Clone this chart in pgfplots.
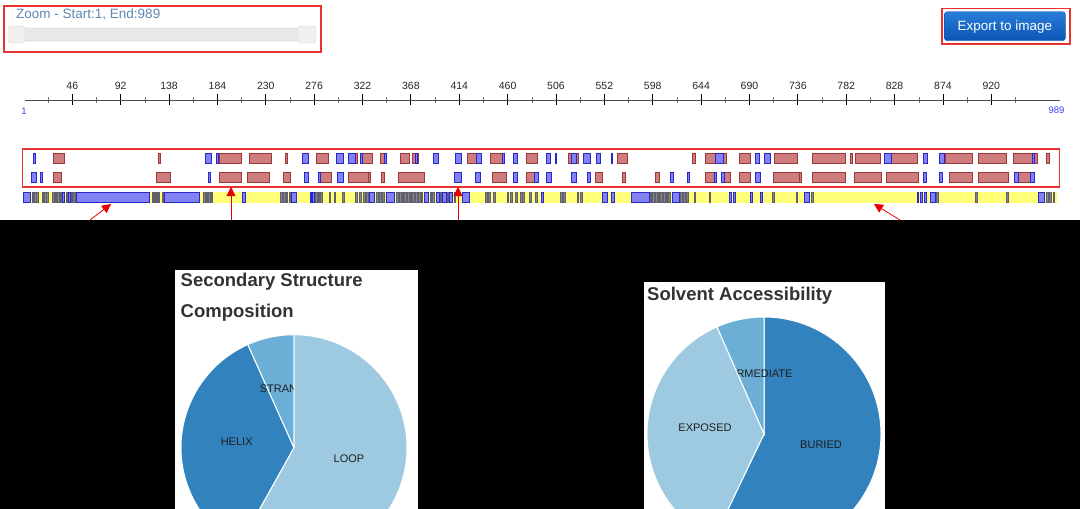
\documentclass[border=0pt]{standalone}
\usepackage{fontspec}
\setmainfont{Liberation Sans}
\usepackage{pgfplots}
\pgfplotsset{compat=1.18}
\usepackage{pgfplotstable}
\usetikzlibrary{arrows.meta}

\definecolor{trkred}{RGB}{205,125,125}
\definecolor{trkredd}{RGB}{160,55,55}
\definecolor{trkblue}{RGB}{130,130,245}
\definecolor{trkblued}{RGB}{40,40,200}
\definecolor{trkyel}{RGB}{255,255,120}
\definecolor{trkgray}{RGB}{135,135,140}
\definecolor{trkgrayd}{RGB}{95,95,110}
\definecolor{boxred}{RGB}{232,50,50}
\definecolor{pieLight}{HTML}{9ECAE1}
\definecolor{pieDark}{HTML}{3182BD}
\definecolor{pieMid}{HTML}{6BAED6}
\definecolor{zoomtxt}{RGB}{95,135,180}
\definecolor{titletxt}{HTML}{333333}
\definecolor{btnA}{RGB}{40,125,215}
\definecolor{btnB}{RGB}{10,85,180}

% pie data (percent)
\def\ssLoop{58.1}\def\ssHelix{35.2}\def\ssStrand{6.7}
\def\saBuried{57.1}\def\saExposed{36.3}\def\saInter{6.6}
\pgfmathsetmacro\ssA{90-3.6*\ssLoop}
\pgfmathsetmacro\ssB{\ssA-3.6*\ssHelix}
\pgfmathsetmacro\saA{90-3.6*\saBuried}
\pgfmathsetmacro\saB{\saA-3.6*\saExposed}

\pgfdeclareplotmark{barrect}{%
  \pgfpathrectangle{\pgfpoint{0pt}{-5pt}}{\pgfpoint{\barw pt}{10pt}}%
  \pgfusepathqfillstroke}
\pgfdeclareplotmark{stripe}{%
  \pgfpathrectangle{\pgfpoint{-0.7pt}{-5pt}}{\pgfpoint{1.4pt}{10pt}}%
  \pgfusepathqfillstroke}

\pgfplotsset{
  trackbars/.style 2 args={scatter, only marks, mark=barrect, point meta=x,
    visualization depends on={\thisrow{x2}-\thisrow{x1} \as \barw},
    scatter/@pre marker code/.code={}, scatter/@post marker code/.code={},
    mark options={fill=#1, draw=#2, line width=0.7pt}},
  redarrow/.style={red!90!black, line width=0.8pt, -{Triangle[length=9pt,width=9pt]}, mark=none},
}

% ---- track data (screen x positions, start/end) ----
\pgfplotstableread{
x1 x2
53.3 64
158.3 160
219.3 241.3
249 271.3
285.7 287.3
316.7 328.7
355 357
362.7 372
380.7 386
400.3 409.7
412.3 418
467.7 477.7
490 504.3
526.7 537
568.7 578
617.7 627.7
692.3 695.7
705 726.7
739 750
774.7 797.3
812.3 845.7
850.7 852.3
855.3 880.3
884.3 917
945.3 972.7
978.7 1006
1013.7 1037
1046 1049.3
}\rowOneRed
\pgfplotstableread{
x1 x2
33.3 35
205.7 211
216.7 218.7
302 308.7
336.3 343
348.7 355
360.7 362.7
384 386
415.5 417.5
433 438
455 461.7
476 481
502.7 504.3
513.3 517.7
546 550
555 556.7
571 576
583.7 590
596 600
611 612.7
715.7 723.3
755 759.3
764 770.7
884.3 891.3
923.7 927
939.7 944.7
1032 1034.7
}\rowOneBlue
\pgfplotstableread{
x1 x2
53.3 61.7
156 170
219.3 241.3
247 269.7
283 290.3
320.7 331.3
348 368
368 370.7
381.3 384
398.7 424.7
492.7 506
526.7 536
595.3 602.7
622 625.3
655.7 659
705.7 716.7
724 730
739.7 750.7
773 799
799 801.3
812.3 845.7
854.7 881.3
886 918.7
949.7 972.7
978 1008.7
1018.7 1030.3
}\rowTwoRed
\pgfplotstableread{
x1 x2
31.7 36
40.7 42.7
208.3 210
304.7 308
318 320.7
337.3 343
454.3 461
475.3 480.3
513.3 517.7
534.3 538.7
546 551
571 576
587.7 590
670 673.3
687.3 689
714 716.7
721.3 724
755 760
923.7 926
939.3 942.7
1014.7 1018.7
1030.3 1034.7
}\rowTwoBlue
\pgfplotstableread{
x1 x2
23 1056
}\rowThreeYellow
\pgfplotstableread{
x1 x2
23.3 30
62.5 64.2
68.5 70.2
76.7 149.3
164 199.3
242.7 245.7
291.3 296.3
310 311.7
312.5 314.2
369.7 374.7
386.3 394.7
424.7 428
436 439.3
442.7 446
449.3 452.7
462.7 469.3
541 543.3
602.7 607.7
611 614.3
631 649
672.3 679
729 731
733 735.7
750.7 752.3
760.7 762.3
804 809
917 918.6
920.3 922
924.5 926.2
930.3 935.7
1038.7 1044.7
}\rowThreeBlue

\begin{document}
\begin{tikzpicture}
\begin{axis}[name=main, at={(0,0)}, anchor=south west,
  width=1080pt, height=509pt, scale only axis,
  xmin=0, xmax=1080, ymin=0, ymax=509, y dir=reverse,
  hide axis, enlargelimits=false, clip=true, clip marker paths=true]
% backgrounds
\fill[white] (axis cs:0,0) rectangle (axis cs:1080,220);
\fill[black] (axis cs:0,220) rectangle (axis cs:1080,509);

% zoom slider box
\draw[boxred, line width=1.6pt] (axis cs:4,6) rectangle (axis cs:320.7,51.7);
\node[anchor=base west, inner sep=0pt, text=zoomtxt, font=\fontsize{13.5}{15}\selectfont] at (axis cs:16,18.3) {Zoom - Start:1, End:989};
\draw[fill=gray!18, draw=gray!40, rounded corners=2pt] (axis cs:10,28) rectangle (axis cs:314,41);
\draw[fill=gray!12, draw=gray!35, rounded corners=3pt] (axis cs:8,26) rectangle (axis cs:25,43);
\draw[fill=gray!12, draw=gray!35, rounded corners=3pt] (axis cs:298,26) rectangle (axis cs:316,43);

% export button
\draw[boxred, line width=1.6pt] (axis cs:941.7,8.3) rectangle (axis cs:1070,44);
\shade[top color=btnA, bottom color=btnB, draw=btnB, rounded corners=3pt] (axis cs:944.3,11.7) rectangle (axis cs:1065.5,40.7);
\node[anchor=base, inner sep=0pt, text=white, font=\fontsize{13.5}{15}\selectfont] at (axis cs:1004.9,30.7) {Export to image};

% ruler end labels
\node[text=blue!75!white, font=\fontsize{9.5}{11}\selectfont, inner sep=0pt] at (axis cs:24,110.8) {1};
\node[text=blue!75!white, font=\fontsize{9.5}{11}\selectfont, inner sep=0pt] at (axis cs:1056.5,110.5) {989};

% tracks
\draw[boxred, line width=1.6pt] (axis cs:22.3,149) rectangle (axis cs:1059.3,187);
\addplot[trackbars={trkred}{trkredd}] table[x=x1, y expr=158.3] {\rowOneRed};
\addplot[trackbars={trkblue}{trkblued}] table[x=x1, y expr=158.3] {\rowOneBlue};
\addplot[trackbars={trkred}{trkredd}] table[x=x1, y expr=177.5] {\rowTwoRed};
\addplot[trackbars={trkblue}{trkblued}] table[x=x1, y expr=177.5] {\rowTwoBlue};
\addplot[trackbars={trkyel}{trkyel}] table[x=x1, y expr=197.2] {\rowThreeYellow};
\addplot[scatter, only marks, mark=stripe, point meta=x,
  scatter/@pre marker code/.code={}, scatter/@post marker code/.code={},
  mark options={fill=trkgray, draw=trkgrayd, line width=0.3pt}]
  coordinates {
  (32.7,197.2) (35,197.2) (37.3,197.2) (42.7,197.2) (45,197.2) (47.3,197.2)
  (53.3,197.2) (55.7,197.2) (58.3,197.2) (60.7,197.2) (66.7,197.2) (71.7,197.2)
  (74,197.2) (152.7,197.2) (154.7,197.2) (156.7,197.2) (158.7,197.2) (162.7,197.2)
  (204.3,197.2) (206.7,197.2) (209,197.2) (211.7,197.2) (281.3,197.2) (284,197.2)
  (286.7,197.2) (289.7,197.2) (316.3,197.2) (318.7,197.2) (321.3,197.2) (329.7,197.2)
  (334.7,197.2) (343,197.2) (356.3,197.2) (360,197.2) (364,197.2) (367,197.2)
  (377,197.2) (380,197.2) (383.3,197.2) (397.3,197.2) (400,197.2) (402.7,197.2)
  (405.3,197.2) (408,197.2) (410.7,197.2) (413.3,197.2) (416,197.2) (419,197.2)
  (421.7,197.2) (430.7,197.2) (433.3,197.2) (440.5,197.2) (447.5,197.2) (454.7,197.2)
  (486,197.2) (489.3,197.2) (494.3,197.2) (507.7,197.2) (511,197.2) (516,197.2)
  (521,197.2) (523.3,197.2) (530.3,197.2) (536,197.2) (561,197.2) (564.3,197.2)
  (577.7,197.2) (581,197.2) (650.7,197.2) (653.3,197.2) (656,197.2) (658.7,197.2)
  (661.3,197.2) (664,197.2) (666.7,197.2) (669.3,197.2) (681,197.2) (684,197.2)
  (687,197.2) (694.8,197.2) (709.8,197.2) (773,197.2) (796.5,197.2) (812,197.2)
  (937.3,197.2) (976,197.2) (1007,197.2) (1047,197.2) (1050.3,197.2) (1053.7,197.2)
  };
\addplot[trackbars={trkblue}{trkblued}] table[x=x1, y expr=197.2] {\rowThreeBlue};

% arrows (drawn as plots so they lie above the tracks)
\addplot[redarrow] coordinates {(90,220) (111,204)};
\addplot[redarrow] coordinates {(231,220) (231,187)};
\addplot[redarrow] coordinates {(458,220) (458,187)};
\addplot[redarrow] coordinates {(900,220) (874,204)};

% panel 1: secondary structure
\fill[white] (axis cs:175,270) rectangle (axis cs:418.3,509);
\node[anchor=base west, inner sep=0pt, text=titletxt, font=\bfseries\fontsize{18.5}{20}\selectfont] at (axis cs:180.5,286.7) {Secondary Structure};
\node[anchor=base west, inner sep=0pt, text=titletxt, font=\bfseries\fontsize{18.5}{20}\selectfont] at (axis cs:180.5,317.7) {Composition};
\filldraw[fill=pieDark, draw=white, line width=1pt] (axis cs:294,447.7) -- ++(\ssA:113pt) arc[start angle=\ssA, end angle=\ssB, radius=113pt] -- cycle;
\filldraw[fill=pieMid, draw=white, line width=1pt] (axis cs:294,447.7) -- ++(\ssB:113pt) arc[start angle=\ssB, end angle=-270, radius=113pt] -- cycle;
\node[text=black!88, font=\fontsize{11}{13}\selectfont] at (axis cs:236.7,441.7) {HELIX};
\node[text=black!88, font=\fontsize{11}{13}\selectfont] at (axis cs:282.5,389) {STRAND};
\filldraw[fill=pieLight, draw=white, line width=1pt] (axis cs:294,447.7) -- ++(90:113pt) arc[start angle=90, end angle=\ssA, radius=113pt] -- cycle;
\node[text=black!88, font=\fontsize{11}{13}\selectfont] at (axis cs:349,458.3) {LOOP};

% panel 2: solvent accessibility
\fill[white] (axis cs:644,282) rectangle (axis cs:885,509);
\node[anchor=base west, inner sep=0pt, text=titletxt, font=\bfseries\fontsize{18.5}{20}\selectfont] at (axis cs:647,300) {Solvent Accessibility};
\filldraw[fill=pieDark, draw=white, line width=1pt] (axis cs:764,434) -- ++(90:117pt) arc[start angle=90, end angle=\saA, radius=117pt] -- cycle;
\node[text=black!88, font=\fontsize{11}{13}\selectfont] at (axis cs:821,444.3) {BURIED};
\filldraw[fill=pieMid, draw=white, line width=1pt] (axis cs:764,434) -- ++(\saB:117pt) arc[start angle=\saB, end angle=-270, radius=117pt] -- cycle;
\node[text=black!88, font=\fontsize{11}{13}\selectfont] at (axis cs:752,373.3) {INTERMEDIATE};
\filldraw[fill=pieLight, draw=white, line width=1pt] (axis cs:764,434) -- ++(\saA:117pt) arc[start angle=\saA, end angle=\saB, radius=117pt] -- cycle;
\node[text=black!88, font=\fontsize{11}{13}\selectfont] at (axis cs:705,427.7) {EXPOSED};
\end{axis}

% ruler axis (residue positions)
\begin{axis}[at={(25pt,409pt)}, anchor=north west,
  width=1034.7pt, height=4pt, scale only axis,
  xmin=1, xmax=985, ymin=0, ymax=1,
  axis y line=none, axis x line*=top,
  x axis line style={-, line width=0.8pt, draw=black!70},
  xtick={46,92,...,920}, minor xtick={23,69,...,943},
  tick align=center, major tick length=11pt, minor tick length=6pt,
  major tick style={line width=0.9pt, black},
  minor tick style={line width=0.5pt, black!55},
  /pgf/number format/assume math mode=true,
  xticklabel style={font=\fontsize{10.5}{12}\selectfont, inner sep=0pt, yshift=4.5pt, text=black!85}]
\addplot[draw=none] coordinates {(1,0) (985,1)};
\end{axis}

\pgfresetboundingbox
\path[use as bounding box] (0,0) rectangle (1080pt,509pt);
\end{tikzpicture}
\end{document}
